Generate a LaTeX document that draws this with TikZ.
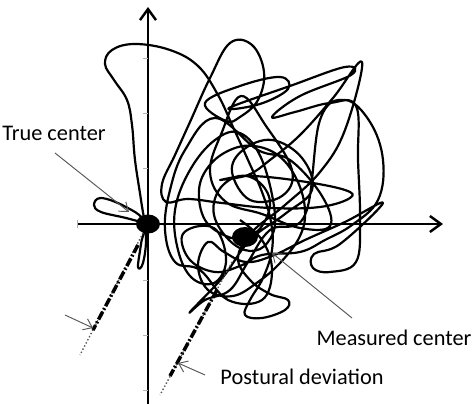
\documentclass[tikz,border=0pt]{standalone}
\usepackage{fontspec}
\setmainfont{Carlito}
\usetikzlibrary{arrows.meta,shapes.geometric}

\begin{document}
\begin{tikzpicture}[x=0.02cm,y=-0.02cm,
    every node/.style={font=\fontsize{12.7}{15}\selectfont},
    axis/.style={line width=1.6pt,-{Straight Barb[length=2.2mm,width=3.2mm,line width=1.4pt]}},
    tick/.style={gray!60,line width=0.5pt},
    scribble/.style={line width=1.25pt,line join=round},
    dot/.style={ellipse,fill=black,inner sep=0pt},
    pointer/.style={gray!70!black,line width=0.55pt,-{Straight Barb[length=1.6mm,width=2.4mm]}},
    dotline/.style={gray!70!black,line width=0.8pt,dash pattern=on 0.8pt off 1.2pt},
    dashline/.style={line width=2pt,dash pattern=on 5pt off 1.3pt on 1pt off 1.3pt}]
  \useasboundingbox (0,0) rectangle (474,404);
  % axes
  \coordinate (xl) at (77,224); \coordinate (xr) at (443,224);
  \coordinate (yb) at (148,404); \coordinate (yt) at (148,7);
  \draw[axis] (xl) -- (xr);
  \draw[axis] (yb) -- (yt);
  \foreach \y in {58,113,168,280,335,390} \draw[tick] (143,\y) -- (148,\y);
  \draw[tick] (77,220) -- (77,228);
  % sway path
  \draw[scribble] plot[smooth,tension=0.65] coordinates {
    (148,224) (126,218) (101,212) (94,205) (101,198) (124,206) (144,221) (141,244) (138,267) (143,263)
    (146,236) (141,200) (135,160) (132,125) (127,100) (114,80) (105,64) (112,50) (135,44) (170,50)
    (198,66) (218,95) (233,127) (248,160) (262,192) (271,222) (272,250) (263,278) (250,300) (245,315)
    (262,318) (285,310) (288,300) (270,294) (250,280) (238,258) (252,232) (285,205) (320,172) (345,130)
    (362,62) (333,98) (300,135) (270,160) (248,175) (220,180) (250,176) (300,181) (345,190) (350,198)
    (320,207) (270,208) (222,203) (188,199) (166,202) (162,184) (175,155) (190,122) (210,78) (230,43)
    (252,45) (264,72) (258,100) (240,117) (226,121) (205,103) (240,86) (280,77) (288,89) (260,104)
    (229,108) (290,86) (345,67) (351,75) (300,96) (272,117) (295,112) (330,103) (356,106) (358,160)
    (360,220) (356,262) (330,272) (313,268) (314,254) (340,244) (383,203) (345,222) (305,240) (272,256)
    (246,262) (224,252) (208,242) (198,265) (208,290) (233,296) (258,282) (281,262) (300,236) (305,210)
    (297,180) (279,156) (254,146) (230,150) (209,166) (199,190) (205,220) (226,236) (245,238) (262,226)
    (270,202) (259,182) (239,176) (219,190) (214,215) (229,240) (250,251) (268,242) (275,215) (262,160)
    (240,133) (215,140) (190,170) (175,210) (178,250) (192,278) (214,283) (226,262) (218,232) (200,226)
    (182,236) (190,260) (215,272) (240,266) (262,255) (300,252) (325,240) (352,225) (378,200) (383,160)
    (370,122) (345,100) (320,120) (305,215) (270,230) (248,262) (230,290) (205,300) (190,312) (223,277)
    (250,240) (285,214) (312,190) (302,158) (272,140) (243,150) (232,172) (250,200) (282,196) (292,170)
    (266,126) (241,96) (222,132) (210,172) (226,202) (262,214) (300,228) (330,226) (322,196) (290,160)
    (258,150) (215,118) (185,150) (170,190) (165,230) (175,262) (200,270) (228,300) (262,300) (272,270)
    (262,240) (240,220)};
  % centres
  \node[dot,minimum width=0.48cm,minimum height=0.38cm] (truec) at (148,224) {};
  \node[dot,minimum width=0.52cm,minimum height=0.4cm] (meas) at (245,237) {};
  % deviation lines
  \coordinate (t0) at (143,233); \coordinate (t1) at (138,245);
  \coordinate (t2) at (93,330); \coordinate (t3) at (80,355);
  \draw[dotline] (t0) -- (t3);
  \draw[dashline] (t1) -- (t2);
  \coordinate (m0) at (232,262); \coordinate (m1) at (217,290);
  \coordinate (m2) at (170,376); \coordinate (m3) at (160,395);
  \draw[dotline] (m0) -- (m3);
  \draw[dashline] (m1) -- (m2);
  % labels
  \node[inner sep=0pt] (tlabel) at (54,133) {True center};
  \node[inner sep=0pt] (mlabel) at (394,338) {Measured center};
  \node[inner sep=0pt] (dlabel) at (302,377) {Postural deviation};
  \coordinate (ta) at (55,153); \coordinate (tb) at (129,212);
  \coordinate (ma) at (352,318); \coordinate (mb) at (272,253);
  \coordinate (pa) at (65,315); \coordinate (pb) at (93,328);
  \coordinate (da) at (205,375); \coordinate (db) at (178,363);
  \draw[pointer] (ta) -- (tb);
  \draw[pointer] (ma) -- (mb);
  \draw[pointer] (pa) -- (pb);
  \draw[pointer] (da) -- (db);
\end{tikzpicture}
\end{document}
